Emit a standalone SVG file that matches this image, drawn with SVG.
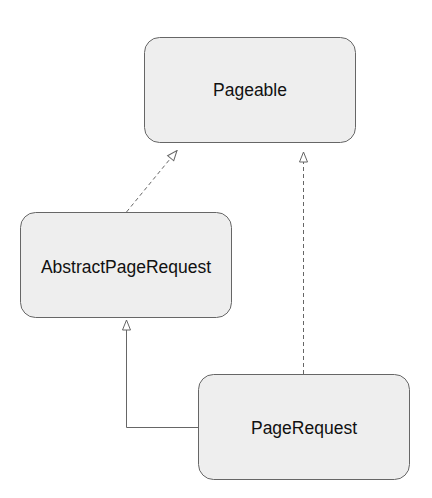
<svg xmlns="http://www.w3.org/2000/svg" width="432" height="498" viewBox="0 0 432 498">
<style>
.node rect{fill:#eeeeee;stroke:#666666;stroke-width:1}
.node text{font-family:"Liberation Sans",Arial,sans-serif;font-size:17.5px;fill:#111111;text-anchor:middle;dominant-baseline:central}
.edge{fill:none;stroke:#666666;stroke-width:1}
.dash{stroke-dasharray:4,3}
</style>
<defs>
<marker id="tri" viewBox="0 0 12 12" refX="11" refY="6" markerWidth="12" markerHeight="12" markerUnits="userSpaceOnUse" orient="auto">
<path d="M1,2 L11,6 L1,10 Z" fill="#ffffff" stroke="#666666" stroke-width="1"/>
</marker>
</defs>
<g id="connectors">
<path class="edge dash" d="M126.5,212 L177,150.5" marker-end="url(#tri)"/>
<path class="edge dash" d="M303.5,374 L303.5,152" marker-end="url(#tri)"/>
<path class="edge" d="M198,427.5 L126.5,427.5 L126.5,320" marker-end="url(#tri)"/>
</g>
<g id="pageable" class="node">
<rect x="144.5" y="37.5" width="211" height="105" rx="15" ry="15"/>
<text x="250" y="90">Pageable</text>
</g>
<g id="abstractPageRequest" class="node">
<rect x="20.5" y="212.5" width="211" height="105" rx="15" ry="15"/>
<text x="126" y="267">AbstractPageRequest</text>
</g>
<g id="pageRequest" class="node">
<rect x="198.5" y="374.5" width="211" height="105" rx="15" ry="15"/>
<text x="304" y="428">PageRequest</text>
</g>
</svg>
